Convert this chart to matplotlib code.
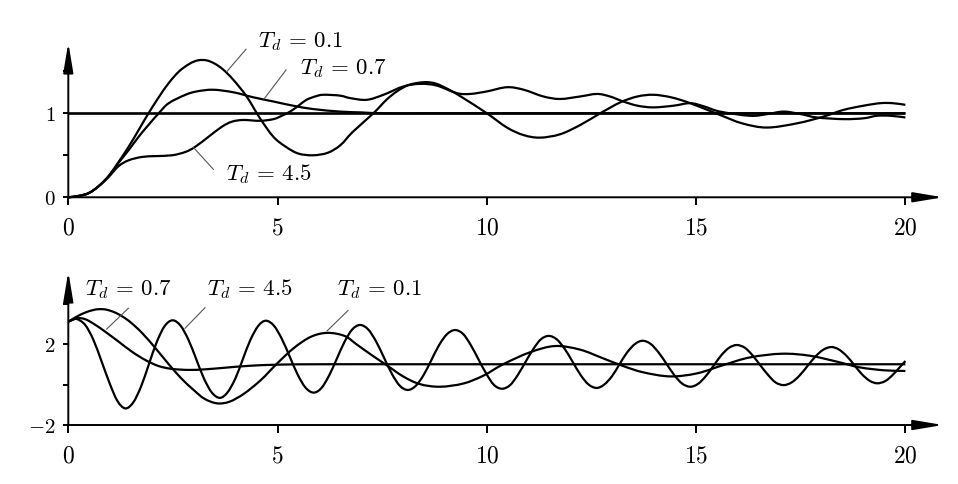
import matplotlib
matplotlib.use('Agg')
from matplotlib import pyplot as plt
from matplotlib.path import Path
from matplotlib.patches import PathPatch

# data  --------------------------------------------------------------------
t_ticks = [0, 5, 10, 15, 20]
top_yticks = [0, 1]
top_yminor = [0.5, 1.5]
bot_yticks = [-2, 2]
bot_yminor = [0, 4]
setpoint = 1.0

# upper plot: step responses
t_up_01 = [0, 0.25, 0.49, 0.72, 0.96, 1.2, 1.44, 1.68, 1.88, 2.16, 2.4, 2.65, 2.9, 3.1, 3.3,
           3.5, 3.7, 3.94, 4.26, 4.58, 4.9, 5.2, 5.5, 5.85, 6.2, 6.5, 6.8, 7.29, 7.6, 7.85,
           8.1, 8.33, 8.57, 8.8, 9.1, 9.44, 10.0, 10.48, 10.88, 11.27, 11.75, 12.23, 12.71,
           13.19, 13.6, 13.98, 14.4, 14.86, 15.57, 16.1, 16.69, 17.41, 18.04, 18.52, 19.0,
           19.4, 19.7, 20.0]
y_up_01 = [0, 0.016, 0.05, 0.13, 0.25, 0.42, 0.60, 0.80, 0.97, 1.19, 1.36, 1.50, 1.59, 1.63, 1.63,
           1.59, 1.52, 1.40, 1.20, 0.94, 0.72, 0.60, 0.52, 0.50, 0.53, 0.62, 0.78, 1.0, 1.16, 1.26,
           1.33, 1.36, 1.37, 1.35, 1.28, 1.18, 1.0, 0.83, 0.74, 0.71, 0.75, 0.86, 1.0,
           1.13, 1.20, 1.22, 1.19, 1.12, 0.98, 0.88, 0.83, 0.88, 0.96, 1.04, 1.09,
           1.12, 1.12, 1.10]

t_up_07 = [0, 0.25, 0.49, 0.72, 0.96, 1.2, 1.44, 1.68, 1.88, 2.16, 2.4, 2.8, 3.07, 3.46, 3.94,
           4.42, 4.9, 5.37, 5.85, 6.49, 7.0, 7.5, 8.5, 10, 12, 14, 16, 18, 20]
y_up_07 = [0, 0.016, 0.05, 0.13, 0.25, 0.41, 0.56, 0.72, 0.84, 1.0, 1.12, 1.22, 1.26, 1.28, 1.25,
           1.19, 1.14, 1.09, 1.05, 1.02, 1.01, 1.0, 1.0, 1.0, 1.0, 1.0, 1.0, 1.0, 1.0]

t_up_45 = [0, 0.25, 0.49, 0.72, 0.96, 1.2, 1.44, 1.76, 2.08, 2.48, 2.8, 3.03, 3.35, 3.67, 3.91,
           4.18, 4.58, 4.9, 5.1, 5.3, 5.5, 5.69, 5.9, 6.09, 6.49, 6.74, 7.13, 7.53, 8.01, 8.41,
           8.8, 9.28, 9.6, 10.0, 10.48, 10.88, 11.35, 11.75, 12.23, 12.63, 12.94, 13.26, 13.6,
           13.98, 14.46, 14.86, 15.2, 15.57, 16.29, 16.7, 17.09, 17.5, 17.88, 18.52, 19.0,
           19.32, 19.65, 20.0]
y_up_45 = [0, 0.016, 0.05, 0.13, 0.24, 0.37, 0.44, 0.48, 0.49, 0.50, 0.54, 0.60, 0.72, 0.84, 0.90,
           0.92, 0.91, 0.93, 0.97, 1.02, 1.09, 1.16, 1.20, 1.22, 1.21, 1.18, 1.16, 1.22, 1.32, 1.35,
           1.33, 1.24, 1.23, 1.26, 1.31, 1.28, 1.20, 1.17, 1.20, 1.23, 1.20, 1.14, 1.09,
           1.07, 1.09, 1.12, 1.08, 1.02, 0.97, 0.99, 1.02, 0.99, 0.95, 0.93, 0.94,
           0.97, 0.97, 0.95]

# lower plot
t_lo_01 = [0, 0.2, 0.4, 0.6, 0.74, 0.9, 1.1, 1.3, 1.5, 1.76, 2.08, 2.4, 2.7, 3.0, 3.25, 3.55,
           3.85, 4.2, 4.6, 5.0, 5.4, 5.8, 6.19, 6.6, 6.89, 7.25, 7.61, 8.0, 8.4, 8.88, 9.44,
           9.92, 10.39, 11.03, 11.63, 12.23, 12.78, 13.26, 13.74, 14.38, 15.02, 15.65, 16.29,
           17.05, 17.72, 18.36, 18.9, 19.5, 20.0]
y_lo_01 = [3.10, 3.35, 3.55, 3.68, 3.72, 3.70, 3.57, 3.35, 3.05, 2.55, 1.80, 1.00, 0.30, -0.28, -0.70, -0.93,
           -0.85, -0.45, 0.22, 1.06, 1.82, 2.36, 2.55, 2.40, 1.98, 1.45, 0.95, 0.40, 0.02, -0.11, 0.05,
           0.44, 1.0, 1.59, 1.90, 1.72, 1.29, 0.91, 0.60, 0.40, 0.55, 0.96, 1.34,
           1.52, 1.42, 1.13, 0.85, 0.70, 0.67]

t_lo_07 = [0, 0.21, 0.41, 0.65, 0.88, 1.2, 1.52, 1.84, 2.16, 2.48, 2.88, 3.27, 3.75, 4.3, 5.0,
           6.0, 8, 10, 12, 14, 16, 18, 20]
y_lo_07 = [3.10, 3.27, 3.22, 2.94, 2.61, 2.12, 1.62, 1.21, 0.91, 0.77, 0.72, 0.75, 0.83, 0.92, 0.98,
           1.0, 1.0, 1.0, 1.0, 1.0, 1.0, 1.0, 1.0]

t_lo_45 = [0, 0.1, 0.21, 0.40, 0.59, 0.785, 0.98, 1.17, 1.36, 1.55, 1.74, 1.925, 2.11, 2.30, 2.49,
           2.68, 2.87, 3.055, 3.24, 3.43, 3.62, 3.80, 3.99, 4.17, 4.35, 4.54, 4.72, 4.91, 5.10,
           5.29, 5.48, 5.67, 5.86, 6.045, 6.23, 6.415, 6.60, 6.785, 6.97, 7.16, 7.35, 7.54, 7.73,
           7.92, 8.11, 8.30, 8.49, 8.675, 8.86, 9.05, 9.24, 9.43, 9.61, 9.80, 9.99, 10.17, 10.36,
           10.55, 10.73, 10.92, 11.11, 11.29, 11.48, 11.67, 11.86, 12.05, 12.24, 12.43, 12.62,
           12.80, 12.99, 13.17, 13.35, 13.54, 13.72, 13.91, 14.10, 14.29, 14.48, 14.67, 14.86,
           15.045, 15.23, 15.415, 15.60, 15.785, 15.97, 16.16, 16.34, 16.53, 16.72, 16.90, 17.09,
           17.28, 17.47, 17.66, 17.85, 18.04, 18.23, 18.41, 18.60, 18.78, 18.96, 19.15, 19.33,
           19.52, 19.70, 19.89, 20.0]
y_lo_45 = [3.10, 3.20, 3.23, 2.95, 2.25, 1.20, 0.10, -0.80, -1.18, -0.89, -0.09, 1.00, 2.08, 2.88, 3.17,
           2.91, 2.21, 1.26, 0.30, -0.40, -0.66, -0.40, 0.29, 1.25, 2.20, 2.90, 3.15, 2.91, 2.26,
           1.38, 0.49, -0.16, -0.40, -0.18, 0.44, 1.27, 2.11, 2.72, 2.94, 2.73, 2.14, 1.34, 0.53,
           -0.06, -0.27, -0.07, 0.47, 1.21, 1.95, 2.49, 2.69, 2.50, 1.97, 1.24, 0.52, -0.02, -0.21,
           -0.04, 0.44, 1.10, 1.75, 2.23, 2.40, 2.23, 1.76, 1.12, 0.47, 0.00, -0.17,
           -0.01, 0.41, 1.00, 1.58, 2.00, 2.16, 2.01, 1.59, 1.03, 0.46, 0.04, -0.11,
           0.03, 0.41, 0.92, 1.44, 1.81, 1.95, 1.82, 1.46, 0.96, 0.47, 0.10, -0.03,
           0.10, 0.44, 0.91, 1.38, 1.72, 1.85, 1.73, 1.40, 0.96, 0.51, 0.18, 0.06,
           0.17, 0.48, 0.91, 1.16]

# label text, anchor and leader line (from, to)
up_labels = [(r'$T_d\,=\,0.1$', (4.53, 1.79), (4.246, 1.762), (3.785, 1.495)),
             (r'$T_d\,=\,0.7$', (5.54, 1.47), (5.202, 1.515), (4.676, 1.170)),
             (r'$T_d\,=\,4.5$', (3.76, 0.206), (3.465, 0.333), (2.987, 0.595))]
lo_labels = [(r'$T_d\,=\,0.7$', (0.40, 4.42), (1.434, 3.763), (0.918, 2.741)),
             (r'$T_d\,=\,4.5$', (3.31, 4.42), (3.266, 3.793), (2.789, 2.775)),
             (r'$T_d\,=\,0.1$', (6.42, 4.42), (6.683, 3.654), (6.181, 2.642))]

# style  -------------------------------------------------------------------
plt.rcParams['mathtext.fontset'] = 'cm'
plt.rcParams['font.family'] = 'serif'
LW = 1.6
AXLW = 1.4
XMAX = 20.9

fig = plt.figure(figsize=(9.58, 4.84), dpi=100)
ax1 = fig.add_axes([0.0713, 0.5924, 0.9131, 0.3194])
ax2 = fig.add_axes([0.0713, 0.1219, 0.9131, 0.3167])


def smooth_line(ax, t, y, lw=LW):
    # draw the read points as one smooth curve (Catmull-Rom as cubic Beziers)
    n = len(t)
    verts = [(t[0], y[0])]
    codes = [Path.MOVETO]
    for i in range(n - 1):
        i0, i2 = max(i - 1, 0), min(i + 2, n - 1)
        c1 = (t[i] + (t[i + 1] - t[i0]) / 6.0, y[i] + (y[i + 1] - y[i0]) / 6.0)
        c2 = (t[i + 1] - (t[i2] - t[i]) / 6.0, y[i + 1] - (y[i2] - y[i]) / 6.0)
        verts += [c1, c2, (t[i + 1], y[i + 1])]
        codes += [Path.CURVE4] * 3
    ax.add_patch(PathPatch(Path(verts, codes), fill=False, ec='k', lw=lw,
                           capstyle='butt', clip_on=False))


def arrow_axes(ax, ymin, ymax):
    ax.set_xlim(0, XMAX)
    ax.set_ylim(ymin, ymax)
    for s in ax.spines.values():
        s.set_visible(False)
    head = dict(arrowstyle='-|>,head_length=1.8,head_width=0.3', color='k', lw=AXLW,
                shrinkA=0, shrinkB=0, mutation_scale=10)
    ax.annotate('', xy=(XMAX, ymin), xytext=(0, ymin), arrowprops=head, annotation_clip=False)
    ax.annotate('', xy=(0, ymax), xytext=(0, ymin), arrowprops=head, annotation_clip=False)
    ax.set_xticks(t_ticks, labels=['$%d$' % v for v in t_ticks])
    ax.tick_params(axis='x', direction='out', length=5.8, width=AXLW, labelsize=17, pad=8)
    ax.tick_params(axis='y', which='both', direction='out', length=3.6, width=AXLW,
                   labelsize=15, pad=5.5)


def draw_labels(ax, labels):
    for txt, pos, p0, p1 in labels:
        ax.text(pos[0], pos[1], txt, fontsize=16.5, ha='left', va='baseline')
        ax.plot([p0[0], p1[0]], [p0[1], p1[1]], color='#555555', lw=0.8, clip_on=False)


# upper plot
arrow_axes(ax1, 0, 1.84)
ax1.set_yticks(top_yticks, labels=['$%d$' % v for v in top_yticks])
ax1.set_yticks(top_yminor, minor=True)
ax1.hlines(setpoint, t_up_01[0], t_up_01[-1], color='k', lw=1.9)
smooth_line(ax1, t_up_07, y_up_07)
smooth_line(ax1, t_up_45, y_up_45)
smooth_line(ax1, t_up_01, y_up_01)
draw_labels(ax1, up_labels)

# lower plot
arrow_axes(ax2, -2, 5.57)
ax2.set_yticks(bot_yticks, labels=['$%d$' % v for v in bot_yticks])
ax2.set_yticks(bot_yminor, minor=True)
smooth_line(ax2, t_lo_07, y_lo_07)
smooth_line(ax2, t_lo_01, y_lo_01)
smooth_line(ax2, t_lo_45, y_lo_45)
draw_labels(ax2, lo_labels)

fig.savefig('out.png', dpi=100)
